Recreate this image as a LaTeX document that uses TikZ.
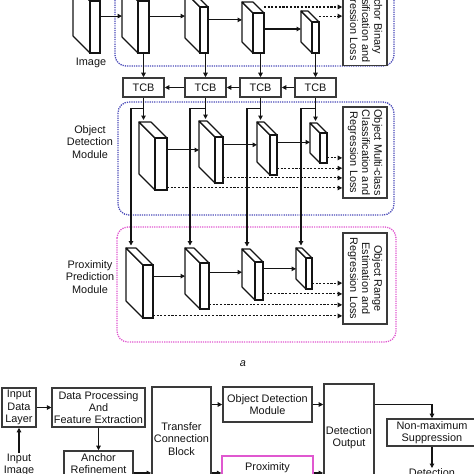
\documentclass[tikz,border=0pt]{standalone}
\usepackage{fontspec}
\setmainfont{Liberation Sans}
\usepackage{xcolor}
\definecolor{cLine}{HTML}{141414}
\definecolor{cEdge}{HTML}{3A3A3A}
\definecolor{cBlue}{HTML}{4A4AB8}
\definecolor{cPink}{HTML}{E058D0}
\usepackage{tikz}
\usetikzlibrary{positioning,arrows.meta,calc}
\tikzset{
  fm-face/.style={draw=cLine,fill=white,line width=0.65pt,inner sep=0pt,outer sep=0pt},
  fm-side/.style={draw=cLine,fill=white,line width=0.65pt,line join=round},
  box/.style={draw=cEdge,line width=0.9pt,fill=white,inner sep=1pt,align=center,text=cLine},
  size/.style 2 args={minimum width=#1*0.2mm,minimum height=#2*0.2mm},
  loss-box/.style={box,rotate=-90,minimum width=18.2mm,minimum height=8.8mm},
  lbl/.style={align=center,text=cLine,inner sep=0pt},
  arrow/.style={-{Triangle[length=0.9mm,width=0.9mm]},draw=cLine,line width=0.6pt},
  arrow-loss/.style={arrow,dash pattern=on 1.2pt off 0.9pt},
  module-blue/.style={draw=cBlue,line width=0.75pt,dash pattern=on 0.7pt off 0.6pt,rounded corners=2.2mm},
  module-pink/.style={module-blue,draw=cPink},
}
% feature map: name, x, y (front face top-left), width, height, depth
\newcommand\fmap[6]{%
  \filldraw[fm-side] (#2,#3) -- ++(-#6,-#6) -- ++(0,#5) -- ++(#6,#6) -- cycle;
  \filldraw[fm-side] (#2,#3) -- ++(-#6,-#6) -- ++(#4,0) -- ++(#6,#6) -- cycle;
  \node[fm-face,size={#4}{#5},anchor=north west] (#1) at (#2,#3) {};
  \coordinate (#1-bk) at ($(#2,#3)+(-#6,-#6)$);
}
% horizontal link out of a feature map front face
\newcommand\hlink[4]{%
  \coordinate (hl) at ($(#2.north east)!#3!(#2.south east)$);
  \draw[#1] (hl) -- (hl -| #4);
}

\begin{document}
\begin{tikzpicture}[x=0.2mm,y=-0.2mm,font=\fontsize{6.2}{6.9}\selectfont]
  \useasboundingbox (0,0) rectangle (474,474);
  \clip (0,0) rectangle (474,474);

  % modules
  \draw[module-blue] (115,-20) rectangle (394,66);
  \draw[module-blue] (118,102) rectangle (394,215);
  \draw[module-pink] (117,227) rectangle (396,342);

  \node[lbl] (imglbl) at (91,63) {Image};
  \node[lbl] (odmlbl) at (90,142) {Object\\Detection\\Module};
  \node[lbl] (ppmlbl) at (90,277) {Proximity\\Prediction\\Module};

  % anchor maps
  \fmap{i0}{90}{1}{10}{52}{17}
  \fmap{a1}{138}{1}{11}{52}{16}
  \fmap{a2}{200}{7}{8}{46}{15}
  \fmap{a3}{253}{13}{11}{40}{11}
  \fmap{a4}{312}{22}{7}{31}{11}
  % detection maps
  \fmap{m1}{155}{138}{12}{52}{16}
  \fmap{m2}{215}{137}{8}{46}{16}
  \fmap{m3}{270}{135}{7}{40}{13}
  \fmap{m4}{320}{133}{7}{30}{10}
  % proximity maps
  \fmap{p1}{143}{265}{10}{53}{17}
  \fmap{p2}{200}{263}{9}{46}{15}
  \fmap{p3}{255}{262}{8}{38}{13}
  \fmap{p4}{306}{258}{6}{31}{10}

  \node[loss-box] (lossA) at (365,20) {Anchor Binary\\Classification and\\Regression Loss};
  \node[loss-box] (lossM) at (365,152.5) {Object Multi-class\\Classification and\\Regression Loss};
  \node[loss-box] (lossP) at (365,278.5) {Object Range\\Estimation and\\Regression Loss};

  \node[box,size={41}{19}] (t1) at (143.5,87.5) {TCB};
  \node[box,size={41}{19}] (t2) at (205.5,87.5) {TCB};
  \node[box,size={41}{19}] (t3) at (260.5,87.5) {TCB};
  \node[box,size={41}{19}] (t4) at (315.5,87.5) {TCB};

  \hlink{arrow}{i0}{0.29}{a1-bk}
  \hlink{arrow}{a1}{0.29}{a2-bk}
  \hlink{arrow}{a2}{0.28}{a3-bk}
  \hlink{arrow}{a3}{0.4}{a4-bk}
  \hlink{arrow-loss}{a3}{-0.15}{lossA.south}
  \hlink{arrow-loss}{a4}{-0.19}{lossA.south}

  \draw[arrow] (t1 |- a1.south) -- (t1);
  \draw[arrow] (t2 |- a2.south) -- (t2);
  \draw[arrow] (t3 |- a3.south) -- (t3);
  \draw[arrow] (t4 |- a4.south) -- (t4);
  \draw[arrow] (t4) -- (t3);
  \draw[arrow] (t3) -- (t2);
  \draw[arrow] (t2) -- (t1);

  \draw[arrow,shorten >=0.4mm] (t1) -- (t1 |- m1-bk);
  \draw[arrow,shorten >=0.4mm] (t2) -- (t2 |- m2-bk);
  \draw[arrow,shorten >=0.4mm] (t3) -- (t3 |- m3-bk);
  \draw[arrow,shorten >=0.4mm] (t4) -- (t4 |- m4-bk);
  \draw[arrow,shorten >=0.5mm] (t1.south) -- ++(0,11) -| ($(p1-bk)+(5,0)$);
  \draw[arrow,shorten >=0.5mm] (t2.south) -- ++(0,11) -| ($(p2-bk)+(5,0)$);
  \draw[arrow,shorten >=0.5mm] (t3.south) -- ++(0,11) -| ($(p3-bk)+(5,0)$);
  \draw[arrow,shorten >=0.5mm] (t4.south) -- ++(0,11) -| ($(p4-bk)+(5,0)$);

  \hlink{arrow}{m1}{0.23}{m2-bk}
  \hlink{arrow}{m2}{0.17}{m3-bk}
  \hlink{arrow}{m3}{0.18}{m4-bk}
  \hlink{arrow-loss}{m4}{0.83}{lossM.south}
  \hlink{arrow-loss}{m3}{0.83}{lossM.south}
  \hlink{arrow-loss}{m2}{0.89}{lossM.south}
  \hlink{arrow-loss}{m1}{0.96}{lossM.south}

  \hlink{arrow}{p1}{0.21}{p2-bk}
  \hlink{arrow}{p2}{0.2}{p3-bk}
  \hlink{arrow}{p3}{0.18}{p4-bk}
  \hlink{arrow-loss}{p4}{0.81}{lossP.south}
  \hlink{arrow-loss}{p3}{0.84}{lossP.south}
  \hlink{arrow-loss}{p2}{0.91}{lossP.south}
  \hlink{arrow-loss}{p1}{0.96}{lossP.south}

  % pipeline
  \node[lbl] (fig-a) at (243,364) {\textit{a}};
  \node[box,size={34}{39}] (idl) at (19,407.5) {Input\\Data\\Layer};
  \node[box,size={91}{39}] (dpfe) at (98.5,407.5) {Data Processing\\And\\Feature Extraction};
  \node[box,size={69}{38}] (arm) at (98.5,470) {Anchor\\Refinement\\Module};
  \node[lbl] (inimg) at (19,464.5) {Input\\Image};
  \node[box,size={59}{104}] (tcb) at (181.5,439) {Transfer\\Connection\\Block};
  \node[box,size={89}{35}] (odm) at (267.5,404.5) {Object Detection\\Module};
  \node[box,size={89}{34},draw=cPink] (ppm) at (267.5,473) {Proximity\\Prediction Module};
  \node[box,size={50}{107}] (dout) at (349,437.5) {Detection\\Output};
  \node[box,size={90}{27}] (nms) at (432,432.5) {Non-maximum\\Suppression};
  \node[lbl,anchor=north] (det) at (432,468) {Detection};

  \draw[arrow] (idl) -- (dpfe);
  \draw[arrow] (dpfe) -- (arm);
  \draw[arrow] (inimg) -- (idl);
  \draw[arrow] (arm.east |- ppm) -- (tcb.west |- ppm);
  \draw[arrow] (tcb.east |- odm) -- (odm);
  \draw[arrow] (tcb.east |- ppm) -- (ppm);
  \draw[arrow] (odm) -- (odm -| dout.west);
  \draw[arrow] (ppm) -- (ppm -| dout.west);
  \draw[arrow] (dout.east |- odm) -| (nms);
  \draw[arrow] (nms) -- (det);
\end{tikzpicture}
\end{document}
